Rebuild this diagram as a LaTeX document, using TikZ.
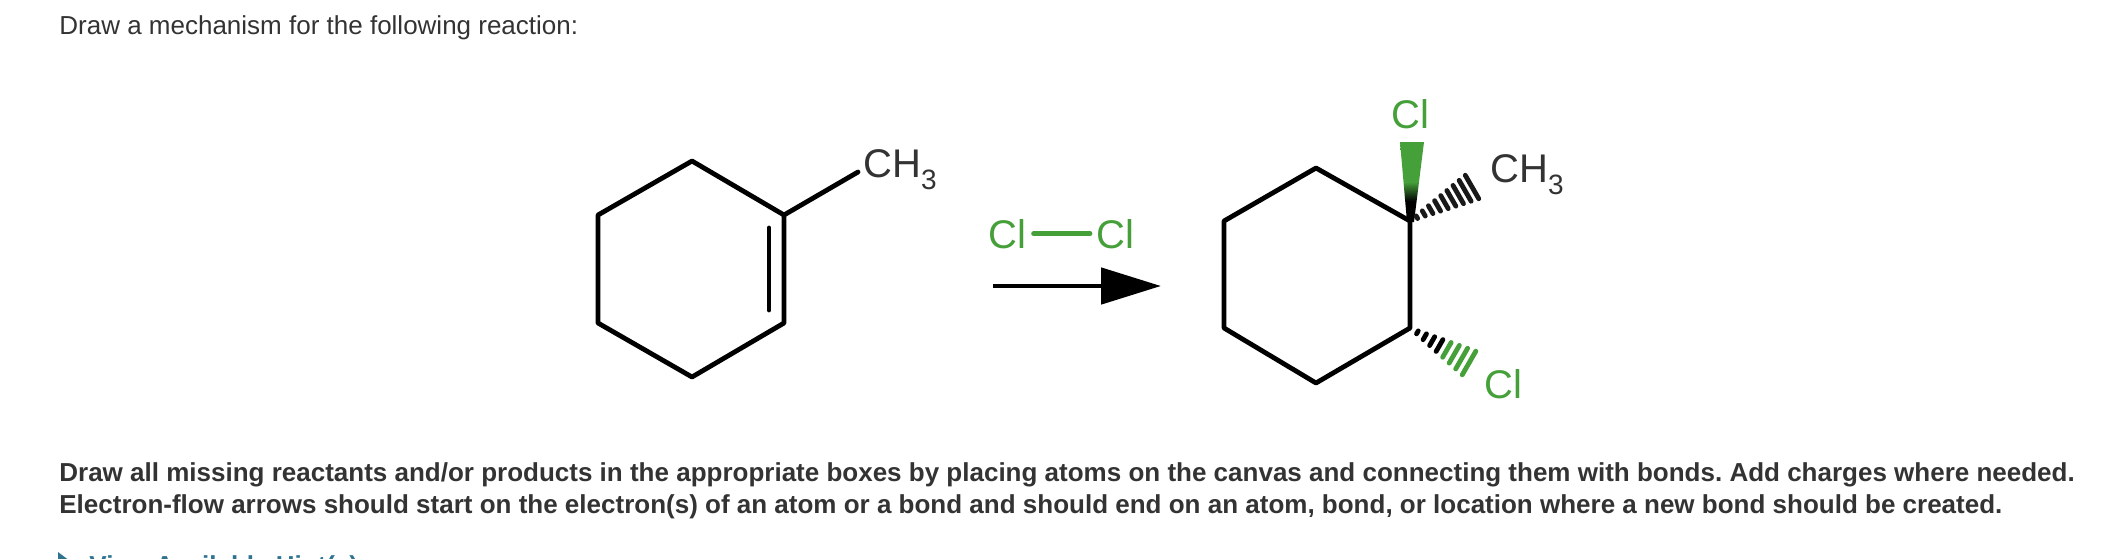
\documentclass[tikz,border=0pt]{standalone}
\usepackage{fontspec}
\setmainfont{Liberation Sans}
\usetikzlibrary{arrows.meta,calc}
\definecolor{clgreen}{HTML}{46A03A}
\definecolor{prompt}{HTML}{333333}
\definecolor{hintblue}{HTML}{2F7391}
\newcommand{\methyl}{CH\raisebox{-0.32em}{\fontsize{14}{14}\selectfont 3}}
\pgfdeclareverticalshading{wedgeshade}{100bp}{
  color(0bp)=(black); color(38bp)=(black); color(50bp)=(clgreen); color(100bp)=(clgreen)}
\frenchspacing

\begin{document}
\begin{tikzpicture}[x=0.5pt,y=-0.5pt,
    bond/.style={line width=2.4pt, line cap=round, line join=round},
    atom/.style={font=\fontsize{20}{20}\selectfont, inner sep=0pt, text=black!80},
    chlorine/.style={atom, text=clgreen},
    prompttext/.style={font=\fontsize{13}{13}\selectfont, text=prompt, anchor=base west, inner sep=0pt},
    promptbold/.style={prompttext, font=\fontsize{13}{13}\selectfont\bfseries}]
    \useasboundingbox (0,0) rectangle (2102,558);
    % question text
    \node[prompttext] (title) at (59,34) {Draw a mechanism for the following reaction:};
    \node[promptbold] (lineone) at (59,481.5) {Draw all missing reactants and/or products in the appropriate boxes by placing atoms on the canvas and connecting them with bonds. Add charges where needed.};
    \node[promptbold] (linetwo) at (59,513.5) {Electron-flow arrows should start on the electron(s) of an atom or a bond and should end on an atom, bond, or location where a new bond should be created.};
    % hint line, cut by the bottom edge
    \begin{scope}
      \clip (0,0) rectangle (2102,558);
      \node[promptbold, text=hintblue] (hint) at (89,574) {View Available Hint(s)};
      \fill[hintblue] (58,552) -- (70,561) -- (58,570) -- cycle;
    \end{scope}
    % reactant
    \coordinate (rt) at (692,161);
    \coordinate (rul) at (598,215);
    \coordinate (rll) at (598,323);
    \coordinate (rb) at (692,377);
    \coordinate (rlr) at (784,323);
    \coordinate (rur) at (784,215);
    \coordinate (rdt) at (769,228);
    \coordinate (rdb) at (769,310);
    \node[atom, anchor=base west] (rme) at (863,177) {\methyl};
    \coordinate (rmeb) at (858,172);
    \draw[bond] (rt) -- (rul) -- (rll) -- (rb) -- (rlr) -- (rur) -- cycle;
    \draw[bond] (rdt) -- (rdb);
    \draw[bond] (rur) -- (rmeb);
    % reagent
    \node[chlorine, anchor=base west] (cla) at (988,248) {Cl};
    \node[chlorine, anchor=base west] (clb) at (1096,248) {Cl};
    \draw[bond, clgreen, shorten >=3pt, shorten <=3.5pt] (cla.east) -- (clb.west);
    \coordinate (arra) at (993,286);
    \coordinate (arrb) at (1161,286);
    \draw[bond, -{Triangle[length=30pt, width=18pt]}, line cap=butt] (arra) -- (arrb);
    % product
    \coordinate (pt) at (1316,168);
    \coordinate (pul) at (1224,221);
    \coordinate (pll) at (1224,328);
    \coordinate (pb) at (1316,383);
    \coordinate (plr) at (1410,328);
    \coordinate (pur) at (1410,221);
    \draw[bond] (pt) -- (pul) -- (pll) -- (pb) -- (plr) -- (pur) -- cycle;
    \node[chlorine, anchor=base west] (clt) at (1391,128) {Cl};
    \node[atom, anchor=base west] (pme) at (1490,182) {\methyl};
    \node[chlorine, anchor=base west] (cll) at (1484,398) {Cl};
    \shade[shading=wedgeshade] (1400,142) -- (1424,142) -- (1414,222) -- (1407,222) -- cycle;
    % hashed bonds
    \coordinate (hashme) at (1472,187);
    \coordinate (hashcl) at (1469,363);
    \foreach \i in {1,...,9}
      \draw[line width=2.4pt, line cap=round, black!90]
        ($(pur)!\i/9!(hashme) + {\i*1.5}*(0.5,0.87)$) -- ($(pur)!\i/9!(hashme) - {\i*1.5}*(0.5,0.87)$);
    \foreach \i in {1,...,8} {
      \ifnum\i>4 \def\hashcol{clgreen}\else \def\hashcol{black}\fi
      \draw[line width=2.4pt, line cap=round, draw=\hashcol]
        ($(plr)!\i/8!(hashcl) + {\i*1.7}*(0.5,-0.87)$) -- ($(plr)!\i/8!(hashcl) - {\i*1.7}*(0.5,-0.87)$);
    }
  \end{tikzpicture}
\end{document}
